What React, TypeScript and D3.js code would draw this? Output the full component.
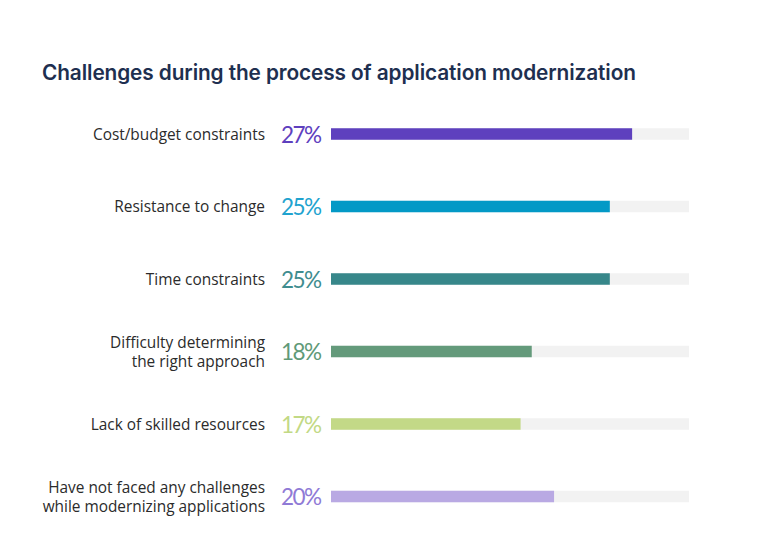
import React from "react";
import * as d3 from "d3";

const categories: string[][] = [
  ["Cost/budget constraints"],
  ["Resistance to change"],
  ["Time constraints"],
  ["Difficulty determining", "the right approach"],
  ["Lack of skilled resources"],
  ["Have not faced any challenges", "while modernizing applications"],
];
const values: number[] = [27, 25, 25, 18, 17, 20];
const barColors: string[] = ["#5e40be", "#0399c6", "#37878a", "#649a7b", "#c3d987", "#b9a9e3"];
const textColors: string[] = ["#5e40be", "#1fa3cf", "#3f8d8f", "#5f9a78", "#c2d985", "#8f7ad6"];
const title = "Challenges during the process of application modernization";
const domainMax = 32.1;

export default function App() {
  const W = 768, H = 553;
  const x = d3.scaleLinear().domain([0, domainMax]).range([331, 689]);
  const y = d3.scalePoint<number>().domain(d3.range(values.length)).range([134, 496.5]);
  const barH = 11.5;
  return (
    <svg width={W} height={H} style={{ position: "absolute", left: 0, top: 0, background: "#fff" }}>
      <text x={42} y={80} fontFamily="Inter, 'Open Sans', sans-serif" fontWeight={600} fontSize={20.8} fill="#1e2f50" letterSpacing={-0.1}>
        {title}
      </text>
      {values.map((v, i) => {
        const cy = y(i)!;
        const lines = categories[i];
        const lh = 19;
        return (
          <g key={i}>
            <rect x={x(0)} y={cy - barH / 2} width={x(domainMax) - x(0)} height={barH} fill="#f2f2f2" />
            <rect x={x(0)} y={cy - barH / 2} width={x(v) - x(0)} height={barH} fill={barColors[i]} />
            <text x={281} y={cy + 8.5} fontFamily="Lato, sans-serif" fontWeight={400} fontSize={22.5} letterSpacing={-1.6} fill={textColors[i]}>
              {v}%
            </text>
            <text x={265} y={cy + 5.5 - ((lines.length - 1) / 2) * lh} textAnchor="end"
              fontFamily="'Open Sans', sans-serif" fontSize={15.4} fill="#2b2b2b" letterSpacing={0}>
              {lines.map((l, j) => (
                <tspan key={j} x={265} dy={j === 0 ? 0 : lh}>{l}</tspan>
              ))}
            </text>
          </g>
        );
      })}
    </svg>
  );
}
